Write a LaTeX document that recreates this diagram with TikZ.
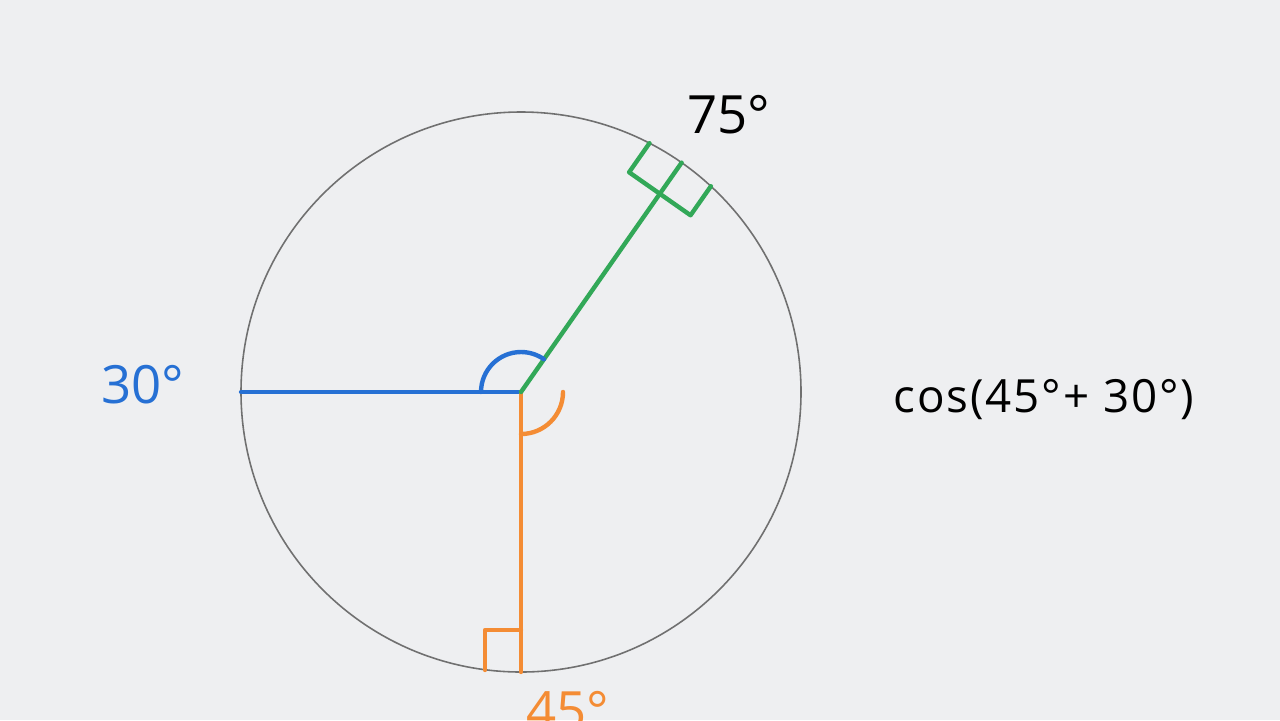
\documentclass[tikz,border=0pt]{standalone}
\usepackage{fontspec}
\setmainfont{Open Sans}
\usepackage{tikz}
\usetikzlibrary{calc}
\definecolor{bgc}{RGB}{238,239,241}
\definecolor{rimc}{RGB}{112,112,112}
\definecolor{bluec}{RGB}{38,112,212}
\definecolor{greenc}{RGB}{50,168,88}
\definecolor{orangec}{RGB}{244,140,52}

\begin{document}
\begin{tikzpicture}[x=0.01cm,y=0.01cm,line cap=round,line join=round,
    rim/.style={draw=rimc,line width=0.45pt},
    ray/.style={line width=1.25pt},
    lbl/.style={inner sep=0pt,font=\fontsize{15}{18}\selectfont}]
  \fill[bgc] (0,0) rectangle (1280,720);
  \useasboundingbox (0,0) rectangle (1280,720);

  \coordinate (O) at (521,328);
  \draw[rim] (O) circle[radius=280];
  \coordinate (A) at ($(O)+(180:280)$);
  \coordinate (B) at ($(O)+(270:280)$);
  \coordinate (C) at ($(O)+(55:280)$);

  % rays
  \draw[ray,bluec] (O) -- (A);
  \draw[ray,orangec] (O) -- (B);
  \draw[ray,greenc] (O) -- (C);

  % angle marks
  \draw[ray,bluec] ($(O)+(180:40)$) arc[start angle=180,end angle=55,radius=40];
  \draw[ray,orangec] ($(O)+(0:42)$) arc[start angle=0,end angle=-90,radius=42];
  \draw[ray,orangec] ($(B)+(0,42)$) -- ++(-36,0) -- ++(0,-40);
  \begin{scope}[shift={(O)},rotate=55]
    \draw[ray,greenc] (277.5,37.5) -- (242,37.5) -- (242,-37.5) -- (277.5,-37.5);
  \end{scope}

  % labels
  \node[lbl] (t75) at (729,605) {75°};
  \node[lbl,text=bluec] (t30) at (143,335) {30°};
  \node[lbl,text=orangec] (t45) at (568,9) {45°};
  \node[lbl,font=\fontsize{13}{16}\selectfont\addfontfeatures{LetterSpace=4}] (tcos) at (1044,320) {cos(45°+ 30°)};
\end{tikzpicture}
\end{document}
